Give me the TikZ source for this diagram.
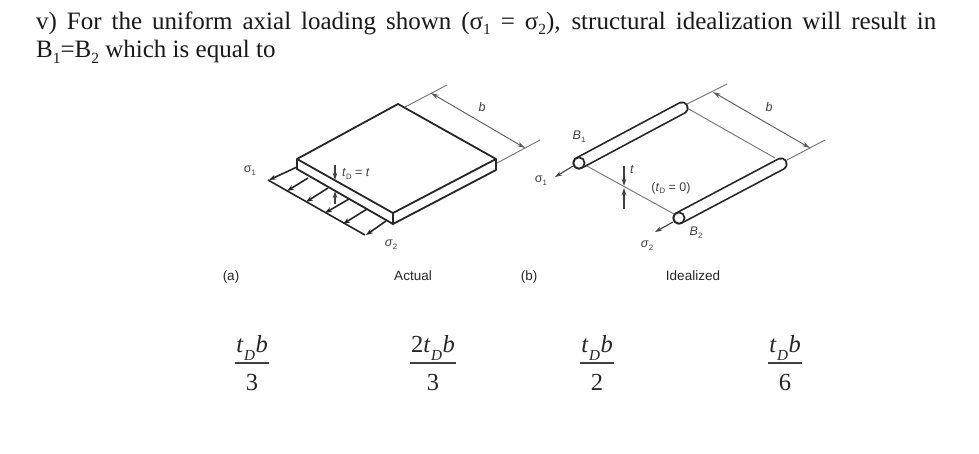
\documentclass[tikz,border=0pt]{standalone}
\usepackage{fontspec}
\setmainfont{Liberation Serif}
\newfontfamily\lab{Liberation Sans}
\usetikzlibrary{arrows.meta}
\newcommand{\sbs}[1]{\raisebox{-0.22em}{\scalebox{0.62}{#1}}}
\newcommand{\tdb}{\textit{t}\kern0.02em\raisebox{-0.36em}{\scalebox{0.62}{\textit{D}}}\kern0.02em\textit{b}}
\tikzset{
 x=1pt,y=-1pt,
 thickl/.style={line width=1.8pt,black!85,line join=round},
 thinl/.style={line width=0.9pt,black!55},
 loadl/.style={line width=1.6pt,black!85,-{Stealth[length=7pt,width=5pt]}},
 diml/.style={line width=0.9pt,black!65,{Stealth[length=8pt,width=4.5pt]}-{Stealth[length=8pt,width=4.5pt]}},
 ar/.style={line width=1.1pt,black!75,-{Stealth[length=7pt,width=4.5pt]}},
 sm/.style={inner sep=0pt,font=\lab\fontsize{12.5}{14}\selectfont,text=black!75},
 captxt/.style={inner sep=0pt,font=\lab\fontsize{13.5}{15}\selectfont,text=black!85},
 txt/.style={inner sep=0pt,anchor=base west,font=\fontsize{25}{27}\selectfont,text=black!90},
 num/.style={inner sep=0pt,anchor=base,font=\fontsize{24.5}{27}\selectfont,text=black!85},
 fracl/.style={line width=1.1pt,black!75},
 tube/.style={line width=13pt,line cap=round,black!85},
 tubei/.style={line width=9.6pt,line cap=round,white},
 endc/.style={line width=1.7pt,black!85,fill=white},
}
\begin{document}
\begin{tikzpicture}
\useasboundingbox (0,0) rectangle (979,453);
\fill[white] (0,0) rectangle (979,453);
% question text
\node[txt] (q1) at (36,29) {\makebox[900pt][s]{v) For the uniform axial loading shown (σ\sbs{1} = σ\sbs{2}), structural idealization will result in}};
\node[txt] (q2) at (36,57.5) {B\sbs{1}=B\sbs{2} which is equal to};
% plate (a)
\coordinate (pb) at (398,104); \coordinate (pl) at (297,159);
\coordinate (pr) at (496,159); \coordinate (pf) at (393,213);
\coordinate (pl2) at (297,169); \coordinate (pf2) at (393,224); \coordinate (pr2) at (496,170);
\draw[thickl] (pb)--(pl)--(pf)--(pr)--cycle;
\draw[thickl] (pl)--(pl2)--(pf2)--(pr2)--(pr);
\draw[thickl] (pf)--(pf2);
% load
\coordinate (l0) at (268,180); \coordinate (l5) at (365,235);
\draw[line width=1.6pt,black!85] (l0)--(l5);
\foreach \sx/\sy/\tx/\ty in {297/167/269/180, 308/178/287/191, 328/188/306/202, 349/199/325/213, 367/209/343/224, 386/221/366/235}
  \draw[loadl] (\sx,\sy)--(\tx,\ty);
% t_D
\coordinate (td1) at (335,165); \coordinate (td2) at (335,180);
\coordinate (td3) at (335,204); \coordinate (td4) at (335,191);
\draw[ar] (td1)--(td2); \draw[ar] (td3)--(td4);
\node[sm,anchor=west] (tdl) at (342,174) {\textit{t}\sbs{D} = \textit{t}};
\node[sm] (s1a) at (250,171) {σ\sbs{1}};
\node[sm] (s2a) at (391,245) {\textit{σ}\sbs{2}};
% b dim (a)
\coordinate (ea1) at (405,107); \coordinate (ea2) at (447,85);
\coordinate (eb1) at (497,163); \coordinate (eb2) at (540,140);
\coordinate (da1) at (431,93); \coordinate (da2) at (525,148);
\draw[thinl] (ea1)--(ea2); \draw[thinl] (eb1)--(eb2);
\draw[diml] (da1)--(da2);
\node[sm] (ba) at (482,107) {\textit{b}};
% idealized (b)
\coordinate (c1) at (579,163); \coordinate (f1) at (682,108);
\coordinate (c2) at (679,218); \coordinate (f2) at (781,164);
\coordinate (x1) at (585,165); \coordinate (x2) at (674,214);
\coordinate (x3) at (687,108); \coordinate (x4) at (775,158);
\draw[thinl] (x1)--(x2);
\draw[thinl] (x3)--(x4);
\foreach \pa/\pc in {c1/f1,c2/f2}{
  \draw[tube] (\pa)--(\pc);
  \draw[tubei] (\pa)--(\pc);
}
\draw[endc] (c1) circle (5.6pt);
\draw[endc] (c2) circle (5.6pt);
% extension / dim
\coordinate (ec1) at (687,104); \coordinate (ec2) at (727,84);
\coordinate (ed1) at (787,160); \coordinate (ed2) at (825,140);
\coordinate (db1) at (713,92); \coordinate (db2) at (810,148);
\draw[thinl] (ec1)--(ec2); \draw[thinl] (ed1)--(ed2);
\draw[diml] (db1)--(db2);
\node[sm] (bb) at (769,107) {\textit{b}};
% t (b)
\coordinate (tt1) at (624,166); \coordinate (tt2) at (624,186);
\coordinate (tt3) at (624,209); \coordinate (tt4) at (624,188);
\draw[ar] (tt1)--(tt2); \draw[ar] (tt3)--(tt4);
\node[sm] (tb) at (632,170) {\textit{t}};
\node[sm] (tdb) at (671,188) {(\textit{t}\sbs{D} = 0)};
% stress arrows (b)
\coordinate (sa1) at (573,166); \coordinate (sa2) at (555,177);
\coordinate (sb1) at (673,222); \coordinate (sb2) at (655,232);
\draw[ar] (sa1)--(sa2); \draw[ar] (sb1)--(sb2);
\node[sm] (s1b) at (541,181) {σ\sbs{1}};
\node[sm] (s2b) at (647,246) {\textit{σ}\sbs{2}};
\node[sm] (b1) at (579,137) {\textit{B}\sbs{1}};
\node[sm] (b2) at (696,233) {\textit{B}\sbs{2}};
% captions
\node[captxt] (ca) at (231,277) {(a)};
\node[captxt] (cc) at (413,276) {Actual};
\node[captxt] (cb) at (529,277) {(b)};
\node[captxt] (cd) at (693,276) {Idealized};
% fractions
\foreach \nm/\fx/\fw/\fn/\fd in {a/252/17/\tdb/3, b/433/23/2\tdb/3, c/597/17/\tdb/2, d/785/17/\tdb/6}{
  \node[num] (n\nm) at (\fx,352) {\fn};
  \node[num] (d\nm) at (\fx,390) {\fd};
  \draw[fracl] (\fx-\fw,363)--(\fx+\fw,363);
}
\end{tikzpicture}
\end{document}
